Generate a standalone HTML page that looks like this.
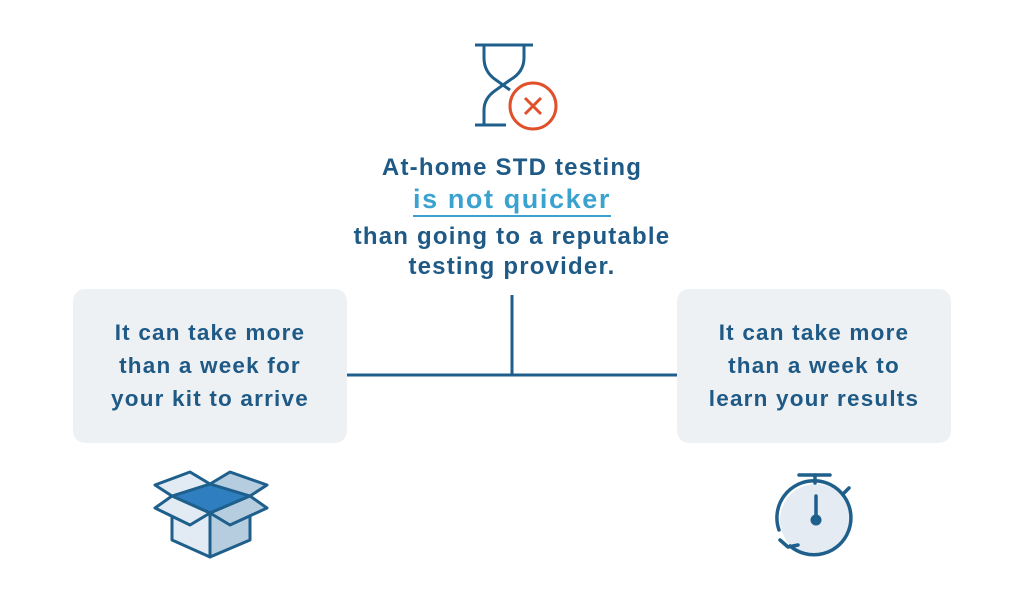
<!DOCTYPE html>
<html><head><style>
body{margin:0;width:1024px;height:614px;background:#fff;position:relative;font-family:"Liberation Sans",sans-serif;overflow:hidden}
.t{position:absolute;left:0;width:1024px;text-align:center;font-weight:bold;color:#1e5a85;font-size:24px;line-height:30px;letter-spacing:1.2px}
.box{position:absolute;top:289px;width:274px;height:154px;background:#eef1f4;border-radius:12px;color:#1e5a85;font-weight:bold;font-size:22.5px;line-height:33px;text-align:center;box-sizing:border-box;padding-top:27px;letter-spacing:1.2px}
</style></head><body>
<svg width="1024" height="614" style="position:absolute;left:0;top:0">
<g stroke="#1f5f8c" stroke-width="3" fill="none">
<line x1="475" y1="45" x2="533" y2="45"/>
<line x1="475" y1="125" x2="506" y2="125"/>
<path d="M484 45 V58 Q484 72 496 80 L510 90"/>
<path d="M524 45 V58 Q524 72 510 80 L496 90 Q484 98 484 110 V125"/>
<line x1="512" y1="295" x2="512" y2="375"/>
<line x1="347" y1="375" x2="677" y2="375"/>
</g>
<circle cx="533" cy="106" r="23" fill="#fff" stroke="#e0502a" stroke-width="3"/>
<path d="M525 98 L541 114 M541 98 L525 114" stroke="#e0502a" stroke-width="3"/>
<g stroke="#1f5f8c" stroke-width="3" stroke-linejoin="round">
<path d="M172 496 L210 513 V557 L172 540 Z" fill="#e2ebf3"/>
<path d="M250 496 L210 513 V557 L250 540 Z" fill="#b6cde0"/>
<path d="M172 496 L210 484 L250 496 L210 513 Z" fill="#2f7fc0"/>
<path d="M172 496 L155 485 L190 472 L210 484 Z" fill="#e2ebf3"/>
<path d="M250 496 L267 485 L230 472 L210 484 Z" fill="#b6cde0"/>
<path d="M172 496 L155 508 L190 525 L210 513 Z" fill="#e2ebf3"/>
<path d="M250 496 L267 508 L230 525 L210 513 Z" fill="#b6cde0"/>
</g>
<circle cx="816" cy="520" r="36" fill="#e4ebf2"/>
<g stroke="#1f5f8c" stroke-width="3.5" stroke-linecap="round" stroke-linejoin="round" fill="none">
<path d="M779 530 A37 37 0 1 1 790 546"/>
<path d="M780 540 L788 547 L798 545"/>
<line x1="799" y1="475" x2="830" y2="475"/>
<line x1="815" y1="475" x2="815" y2="483"/>
<line x1="843" y1="494" x2="849" y2="488"/>
<line x1="816" y1="496" x2="816" y2="517"/>
</g>
<circle cx="816" cy="520" r="5.5" fill="#1f5f8c"/>
</svg>
<div class="t" style="top:153px">At-home STD testing</div>
<div class="t" style="top:184px;color:#3aa2cf;font-size:27px;letter-spacing:1.6px"><span style="border-bottom:2.5px solid #3aa2cf;padding-bottom:1px">is not quicker</span></div>
<div class="t" style="top:222px">than going to a reputable</div>
<div class="t" style="top:252px">testing provider.</div>
<div class="box" style="left:73px">It can take more<br>than a week for<br>your kit to arrive</div>
<div class="box" style="left:677px">It can take more<br>than a week to<br>learn your results</div>
</body></html>
